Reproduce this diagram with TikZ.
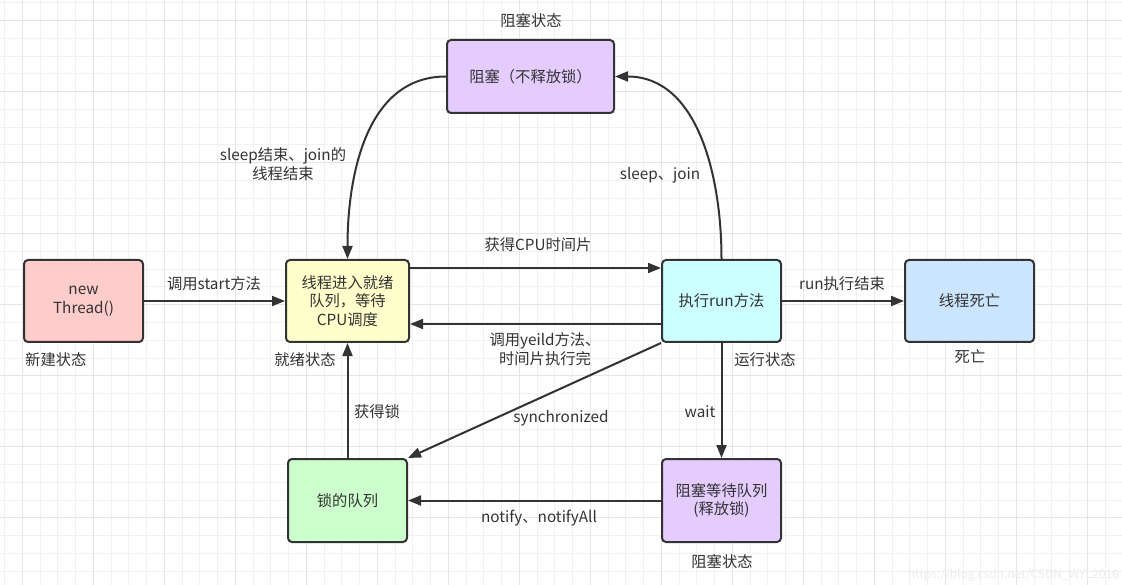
\documentclass[tikz,border=0pt]{standalone}
\usepackage{fontspec}
\setmainfont{Noto Sans CJK SC}
\usetikzlibrary{arrows.meta}
\definecolor{ink}{HTML}{333333}
\definecolor{gminor}{HTML}{F1F1F1}
\definecolor{gmajor}{HTML}{E5E5E5}
\definecolor{cnew}{HTML}{FFCCCC}
\definecolor{cready}{HTML}{FFFFCC}
\definecolor{cblock}{HTML}{E5CCFF}
\definecolor{crun}{HTML}{CCFFFF}
\definecolor{cdead}{HTML}{CCE5FF}
\definecolor{clock}{HTML}{CCFFCC}
\newcommand\dfont{\fontsize{15.3}{18.7}\selectfont}
\tikzset{
  statebox/.style={draw=ink, line width=2pt, rounded corners=4pt, text=ink, align=center, font=\dfont, inner sep=0pt},
  lbl/.style={text=ink, font=\dfont, align=center, inner sep=0pt},
  conn/.style={draw=ink, line width=2pt, -{Triangle[length=13pt,width=10pt]}},
  gridminor/.style={draw=gminor, line width=1pt},
  gridmajor/.style={draw=gmajor, line width=1pt}
}
\begin{document}
\begin{tikzpicture}[x=1pt,y=-1pt]
\useasboundingbox (0,0) rectangle (1122,585);
\fill[white] (0,0) rectangle (1122,585);
% grid
\foreach \i in {0,...,63} { \draw[gridminor] ({4.55+17.75*\i},0) -- ({4.55+17.75*\i},585); }
\foreach \j in {0,...,33} { \draw[gridminor] (0,{3+17.75*\j}) -- (1122,{3+17.75*\j}); }
\foreach \i in {0,...,15} { \draw[gridmajor] ({22.3+71*\i},0) -- ({22.3+71*\i},585); }
\foreach \j in {0,...,8} { \draw[gridmajor] (0,{20.7+71*\j}) -- (1122,{20.7+71*\j}); }

% nodes
\node[statebox, fill=cnew, minimum width=119pt, minimum height=82pt] (new) at (83.5,301) {new\\Thread()};
\node[statebox, fill=cready, minimum width=123pt, minimum height=82pt] (ready) at (347.5,301) {线程进入就绪\\队列，等待\\CPU调度};
\node[statebox, fill=cblock, minimum width=167pt, minimum height=73pt] (block) at (530.5,76.5) {阻塞（不释放锁）};
\node[statebox, fill=crun, minimum width=119pt, minimum height=82pt] (run) at (721.5,301) {执行run方法};
\node[statebox, fill=cdead, minimum width=129pt, minimum height=82pt] (dead) at (969.5,301) {线程死亡};
\node[statebox, fill=clock, minimum width=119pt, minimum height=83pt] (lock) at (347.5,500.5) {锁的队列};
\node[statebox, fill=cblock, minimum width=119pt, minimum height=83pt] (wait) at (721.5,500.5) {阻塞等待队列\\(释放锁)};

% state labels
\node[lbl, anchor=west] (lnew) at (25,360) {新建状态};
\node[lbl] (lready) at (305,360) {就绪状态};
\node[lbl] (lblock) at (531,21) {阻塞状态};
\node[lbl] (lrun) at (765,360) {运行状态};
\node[lbl] (ldead) at (970,357) {死亡};
\node[lbl] (lwait) at (722,562) {阻塞状态};

% connectors
\draw[conn] (new.east) -- (ready.west);
\draw[conn] ([yshift=-9pt]ready.north east) -- ([yshift=-9pt]run.north west);
\draw[conn] ([yshift=19pt]run.south west) -- ([yshift=19pt]ready.south east);
\draw[conn] (run.east) -- (dead.west);
\draw[conn] (run.north) to[out=90,in=0] (block.east);
\draw[conn] (block.west) to[out=180,in=90] (ready.north);
\draw[conn] (run.south west) -- (lock.north east);
\draw[conn] (run.south) -- (wait.north);
\draw[conn] (wait.west) -- (lock.east);
\draw[conn] (lock.north) -- (ready.south);

% connector labels
\node[lbl] (tstart) at (214,284) {调用start方法};
\node[lbl] (tcpu) at (538,245) {获得CPU时间片};
\node[lbl] (tyield) at (545,349) {调用yeild方法、\\时间片执行完};
\node[lbl] (tend) at (842,284) {run执行结束};
\node[lbl] (tsleep) at (660,175) {sleep、join};
\node[lbl] (tsleepend) at (283,164) {sleep结束、join的\\线程结束};
\node[lbl] (tsync) at (561,418) {synchronized};
\node[lbl] (twait) at (700,412) {wait};
\node[lbl] (tlock) at (377,412) {获得锁};
\node[lbl] (tnotify) at (539,518) {notify、notifyAll};

% watermark
\node[text=black!8, font=\fontsize{12}{14}\selectfont, anchor=east, inner sep=0pt] (wm) at (1119,575) {https://blog.csdn.net/CSDN\_WYL2016};
\end{tikzpicture}
\end{document}
